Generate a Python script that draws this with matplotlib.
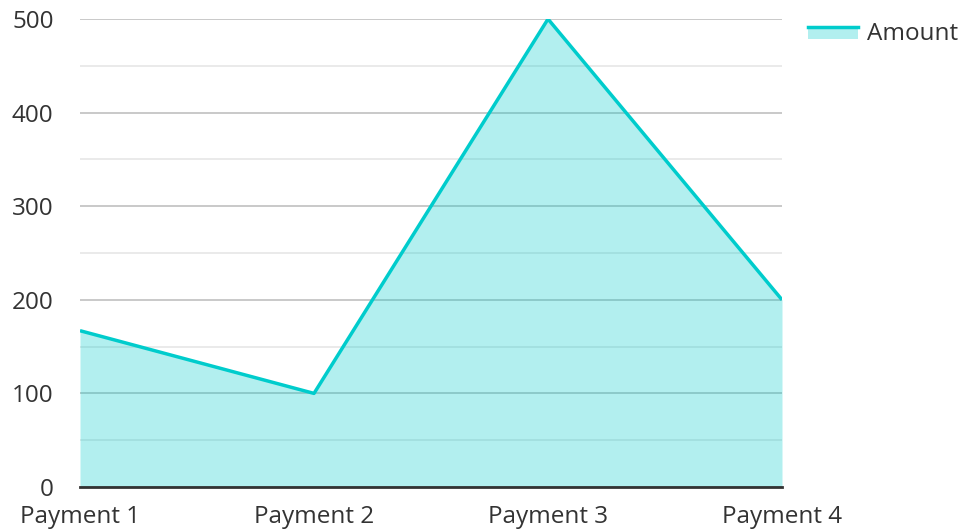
import matplotlib
matplotlib.use("Agg")
import matplotlib.pyplot as plt
from matplotlib.patches import Patch, Rectangle
from matplotlib.lines import Line2D
from matplotlib.legend_handler import HandlerBase

categories = ["Payment 1", "Payment 2", "Payment 3", "Payment 4"]
amounts = [167, 100, 500, 200]
series_name = "Amount"

plt.rcParams['font.family'] = ['Open Sans', 'DejaVu Sans']

line_color = "#00CCCC"
fill_color = "#00CCCC"
FS = 17.5

fig = plt.figure(figsize=(9.64, 5.31), dpi=100)
ax = fig.add_axes([80/964, 1 - 487/531, (782-80)/964, (487-19)/531])

x = list(range(len(categories)))
ax.fill_between(x, amounts, 0, color=fill_color, alpha=0.3, linewidth=0, zorder=3)
ax.plot(x, amounts, color=line_color, linewidth=2.5, zorder=4, solid_capstyle='butt')

ax.set_xlim(0, len(categories) - 1)
ax.set_ylim(0, 500)
ax.set_yticks([0, 100, 200, 300, 400, 500])
ax.set_yticks([50, 150, 250, 350, 450], minor=True)
ax.set_xticks(x)
ax.set_xticklabels(categories)

ax.grid(which='major', axis='y', color='#c0c0c0', linewidth=1.2, zorder=1)
ax.grid(which='minor', axis='y', color='#e6e6e6', linewidth=1.2, zorder=1)
ax.set_axisbelow(True)
for s in ['top', 'right', 'left']:
    ax.spines[s].set_visible(False)
ax.spines['bottom'].set_color('#333333')
ax.spines['bottom'].set_linewidth(2)
ax.spines['bottom'].set_zorder(5)
ax.tick_params(axis='both', which='both', length=0, labelsize=FS, colors='#333333')
ax.tick_params(axis='y', pad=19)
ax.tick_params(axis='x', pad=13)


class AreaHandler(HandlerBase):
    def create_artists(self, legend, orig_handle, xdescent, ydescent, width, height, fontsize, trans):
        r = Rectangle((-xdescent, -ydescent), width, height * 0.8, facecolor=fill_color,
                      alpha=0.3, edgecolor='none', transform=trans)
        l = Line2D([-xdescent, -xdescent + width], [-ydescent + height * 0.8] * 2,
                   color=line_color, linewidth=2.5, transform=trans)
        return [r, l]


handle = Patch(label=series_name)
leg = fig.legend([handle], [series_name], handler_map={Patch: AreaHandler()},
                 loc='upper left', bbox_to_anchor=(789/964, 1 - 3/531), frameon=False,
                 fontsize=FS, handlelength=2.05, handleheight=0.55, handletextpad=0.35,
                 borderpad=0.3)
for t in leg.get_texts():
    t.set_color('#333333')

fig.savefig("out.png", dpi=100)
